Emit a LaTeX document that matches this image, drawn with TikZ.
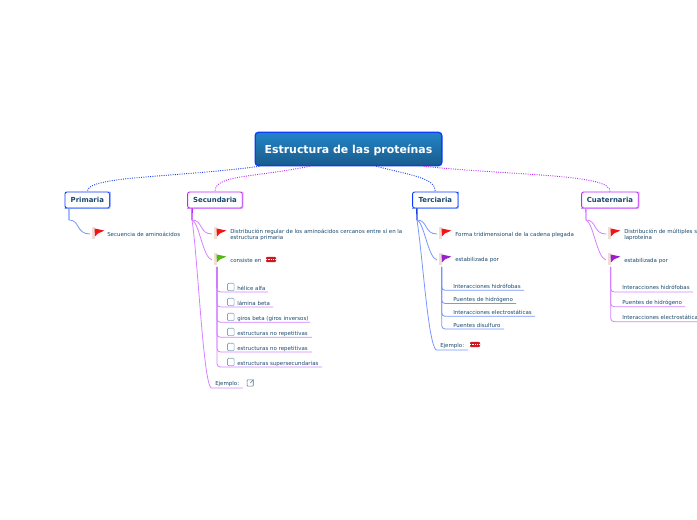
\documentclass[tikz,border=0pt]{standalone}
\usepackage{fontspec}
\setmainfont{DejaVu Sans}
\definecolor{fontblue}{RGB}{24,72,108}
\definecolor{rootborder}{RGB}{10,60,250}
\definecolor{roottop}{RGB}{34,132,200}
\definecolor{rootbottom}{RGB}{26,92,140}
\definecolor{linkblue}{RGB}{28,64,232}
\definecolor{lightblue}{RGB}{120,150,255}
\definecolor{linkpurple}{RGB}{190,40,250}
\definecolor{lightpurple}{RGB}{212,130,255}
\definecolor{boxgrey}{RGB}{130,165,190}
\definecolor{poleskin}{RGB}{238,222,214}
\definecolor{flagred}{RGB}{245,20,20}
\definecolor{flaggreen}{RGB}{84,184,20}
\definecolor{flagpurple}{RGB}{155,32,205}
\definecolor{tagred}{RGB}{205,24,36}
\tikzset{
rootbox/.style={draw=rootborder,line width=1pt,rounded corners=2.5pt,top color=roottop,bottom color=rootbottom,text=white,font=\bfseries\fontsize{8.2}{10}\selectfont,minimum width=140pt,minimum height=25pt,inner sep=0pt,text height=9pt},
branchbox/.style={draw=#1,fill=white,line width=.7pt,rounded corners=1.5pt,text=fontblue,font=\bfseries\fontsize{5.2}{6}\selectfont,minimum height=12pt,inner sep=0pt,text height=4.4pt},
leaf/.style={anchor=west,inner sep=0pt,yshift=-.6pt,text=fontblue,font=\fontsize{4.1}{4.9}\selectfont,align=left},
checkbox/.style={draw=boxgrey,fill=white,line width=.5pt,rounded corners=.8pt,minimum width=5pt,minimum height=5.5pt,inner sep=0pt},
redtag/.style={fill=tagred,rounded corners=.7pt,minimum width=7.5pt,minimum height=3.8pt,inner sep=0pt},
dotlink/.style={densely dotted,line width=.7pt,#1},
thinlink/.style={line width=.6pt,#1},
thicklink/.style={line width=1pt,#1},
underlink/.style={line width=.6pt,rounded corners=2.5pt,#1},
pics/flagmark/.style={code={
\fill[poleskin] (2.3,-7) rectangle (4.7,5);
\fill[#1] (4.5,-5.6) -- (14.4,-3.4) -- (8,-.6) -- (5,2.4) -- cycle;
}}
}

\begin{document}
\begin{tikzpicture}[x=.75pt,y=-.75pt]
\useasboundingbox (0,0) rectangle (697,520);
\node[rootbox] (root) at (348.5,149) {Estructura de las proteínas};
\node[branchbox=rootborder,minimum width=33.5pt] (prim) at (87.3,200) {Primaria};
\node[branchbox=linkpurple,minimum width=41pt] (secu) at (215,200) {Secundaria};
\node[branchbox=rootborder,minimum width=34pt] (terc) at (435.3,200) {Terciaria};
\node[branchbox=linkpurple,minimum width=42.5pt] (cuat) at (610,200) {Cuaternaria};
\draw[lightblue,line width=.8pt,rounded corners=1.5pt] (prim.south west) -- (prim.south east) -- (prim.north east);
\draw[lightpurple,line width=.8pt,rounded corners=1.5pt] (secu.south west) -- (secu.south east) -- (secu.north east);
\draw[lightblue,line width=.8pt,rounded corners=1.5pt] (terc.south west) -- (terc.south east) -- (terc.north east);
\draw[lightpurple,line width=.8pt,rounded corners=1.5pt] (cuat.south west) -- (cuat.south east) -- (cuat.north east);

\draw[dotlink=linkblue] (root.191) .. controls (170,178) and (87,176) .. (prim.north);
\draw[dotlink=linkpurple] (root.204) .. controls (250,178) and (215,175) .. (secu.north);
\draw[dotlink=linkblue] (root.328) .. controls (410,175) and (436,178) .. (terc.north);
\draw[dotlink=linkpurple] (root.347) .. controls (520,176) and (611,174) .. (cuat.north);

\coordinate (primFoot) at (69,220);
\coordinate (secuFoot) at (192,220);
\coordinate (tercFoot) at (417,220);
\coordinate (cuatFoot) at (586,220);
\draw[thicklink=lightblue] ([xshift=3.4pt]prim.south west) -- (primFoot);
\draw[thicklink=linkpurple] ([xshift=3.7pt]secu.south west) -- (secuFoot);
\draw[thicklink=linkblue] ([xshift=3.5pt]terc.south west) -- (tercFoot);
\draw[thicklink=lightpurple] ([xshift=3.5pt]cuat.south west) -- (cuatFoot);

\coordinate (primFlag) at (90,234);
\coordinate (secuFlagA) at (212,234);
\coordinate (secuFlagB) at (212,260);
\coordinate (tercFlagA) at (437,234);
\coordinate (tercFlagB) at (437,260);
\coordinate (cuatFlagA) at (606,234);
\coordinate (cuatFlagB) at (606,260);
\pic at (primFlag) {flagmark=flagred};
\pic at (secuFlagA) {flagmark=flagred};
\pic at (secuFlagB) {flagmark=flaggreen};
\pic at (tercFlagA) {flagmark=flagred};
\pic at (tercFlagB) {flagmark=flagpurple};
\pic at (cuatFlagA) {flagmark=flagred};
\pic at (cuatFlagB) {flagmark=flagpurple};
\draw[thinlink=lightblue] (primFoot) .. controls (80,220) and (76,234) .. (primFlag);
\draw[thinlink=lightpurple] (secuFoot) .. controls (203,220) and (199,234) .. (secuFlagA);
\draw[thinlink=lightpurple] (secuFoot) .. controls (199,222) and (203,258) .. (secuFlagB);
\draw[thinlink=lightblue] (tercFoot) .. controls (428,220) and (424,234) .. (tercFlagA);
\draw[thinlink=lightblue] (tercFoot) .. controls (424,222) and (428,258) .. (tercFlagB);
\draw[thinlink=lightpurple] (cuatFoot) .. controls (597,220) and (593,234) .. (cuatFlagA);
\draw[thinlink=lightpurple] (cuatFoot) .. controls (593,222) and (597,258) .. (cuatFlagB);

\node[leaf] (primA) at (107,234) {Secuencia de aminoácidos};
\node[leaf] (secuA) at (230,234) {Distribución regular de los aminoácidos cercanos entre sí en la\\estructura primaria};
\node[leaf] (secuB) at (230,260) {consiste en};
\node[redtag] (secuTag) at (271,259.5) {};
\draw[white,line width=.4pt,densely dotted] (secuTag.west) -- (secuTag.east);
\node[leaf] (tercA) at (455,234) {Forma tridimensional de la cadena plegada};
\node[leaf] (tercB) at (455,259) {estabilizada por};
\node[leaf] (cuatA) at (624,234) {Distribución de múltiples s\\laproteína};
\node[leaf] (cuatB) at (624,260) {estabilizada por};

\coordinate (secuBase) at (217,267);
\coordinate (secuBend) at (217,288);
\coordinate (tercBase) at (441.7,267);
\coordinate (tercBend) at (441.7,288);
\coordinate (cuatBase) at (610.7,267);
\coordinate (cuatBend) at (610.7,288);
\draw[thicklink=linkpurple] (secuBase) -- (secuBend);
\draw[thicklink=linkblue] (tercBase) -- (tercBend);
\draw[thicklink=linkpurple] (cuatBase) -- (cuatBend);

\node[checkbox] (boxA) at (230.8,287) {};
\node[checkbox] (boxB) at (230.8,302) {};
\node[checkbox] (boxC) at (230.8,317) {};
\node[checkbox] (boxD) at (230.8,332) {};
\node[checkbox] (boxE) at (230.8,347) {};
\node[checkbox] (boxF) at (230.8,362) {};
\node[leaf] (helice) at (237,288) {hélice alfa};
\node[leaf] (lamina) at (237,303) {lámina beta};
\node[leaf] (giros) at (237,318) {giros beta (giros inversos)};
\node[leaf] (norepA) at (237,333) {estructuras no repetitivas};
\node[leaf] (norepB) at (237,348) {estructuras no repetitivas};
\node[leaf] (super) at (237,363) {estructuras supersecundarias};
\coordinate (heliceEnd) at (268,292);
\coordinate (laminaEnd) at (273,307);
\coordinate (girosEnd) at (310,322.3);
\coordinate (norepAEnd) at (312,337.3);
\coordinate (norepBEnd) at (312,352);
\coordinate (superEnd) at (322,367);
\draw[underlink=lightpurple] (secuBase) |- (heliceEnd);
\draw[underlink=lightpurple] (secuBase) |- (laminaEnd);
\draw[underlink=lightpurple] (secuBase) |- (girosEnd);
\draw[underlink=lightpurple] (secuBase) |- (norepAEnd);
\draw[underlink=lightpurple] (secuBase) |- (norepBEnd);
\draw[underlink=lightpurple] (secuBase) |- (superEnd);

\node[leaf] (secuEj) at (215,383) {Ejemplo:};
\coordinate (secuEjEnd) at (243,388);
\draw[thinlink=lightpurple] (secuFoot) .. controls (198,260) and (203,380) .. (211,388) -- (secuEjEnd);
\node[inner sep=0pt,minimum size=4.6pt,draw=boxgrey!70!black,line width=.45pt,rounded corners=.4pt] (secuLink) at (250.2,383) {};
\draw[boxgrey!70!black,line width=.45pt] (secuLink.center) -- (secuLink.north east);

\node[leaf] (intHA) at (453,286) {Interacciones hidrófobas};
\node[leaf] (intPA) at (453,299) {Puentes de hidrógeno};
\node[leaf] (intEA) at (453,312) {Interacciones electrostáticas};
\node[leaf] (intDA) at (453,325) {Puentes disulfuro};
\coordinate (intHAEnd) at (524,290.3);
\coordinate (intPAEnd) at (516,303.5);
\coordinate (intEAEnd) at (535,316.3);
\coordinate (intDAEnd) at (504,329);
\draw[underlink=lightblue] (tercBase) |- (intHAEnd);
\draw[underlink=lightblue] (tercBase) |- (intPAEnd);
\draw[underlink=lightblue] (tercBase) |- (intEAEnd);
\draw[underlink=lightblue] (tercBase) |- (intDAEnd);

\node[leaf] (tercEj) at (440,345) {Ejemplo:};
\coordinate (tercEjEnd) at (468,350);
\draw[thinlink=lightblue] (tercFoot) .. controls (423,260) and (428,342) .. (436,350) -- (tercEjEnd);
\node[redtag] (tercTag) at (475,344.5) {};
\draw[white,line width=.4pt,densely dotted] (tercTag.west) -- (tercTag.east);

\node[leaf] (intHB) at (622,286.7) {Interacciones hidrófobas};
\node[leaf] (intPB) at (622,302) {Puentes de hidrógeno};
\node[leaf] (intEB) at (622,317) {Interacciones electrostáticas};
\coordinate (intHBEnd) at (693,292);
\coordinate (intPBEnd) at (685,306.7);
\coordinate (intEBEnd) at (697,321.7);
\draw[underlink=lightpurple] (cuatBase) |- (intHBEnd);
\draw[underlink=lightpurple] (cuatBase) |- (intPBEnd);
\draw[underlink=lightpurple] (cuatBase) |- (intEBEnd);
\end{tikzpicture}
\end{document}
